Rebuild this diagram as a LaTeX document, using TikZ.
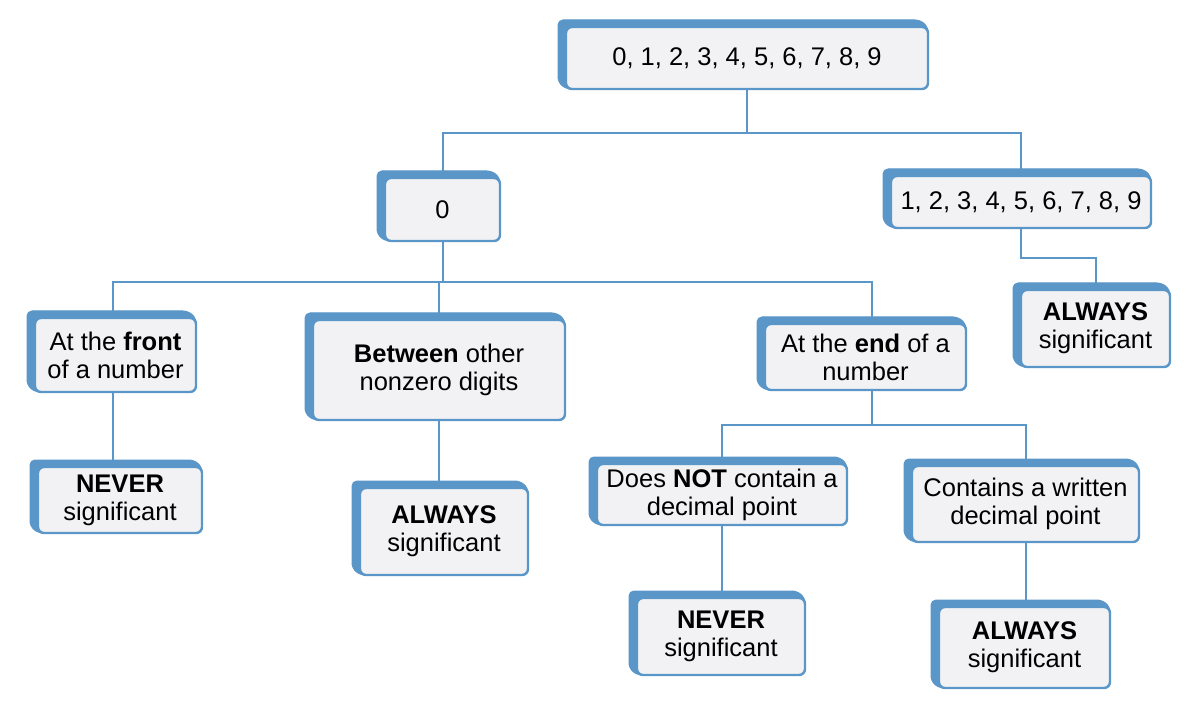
\documentclass[tikz,border=0pt]{standalone}
\usepackage{fontspec}
\setmainfont{Liberation Sans}
\usetikzlibrary{calc}
\definecolor{bblue}{HTML}{5A96C8}
\definecolor{boxgray}{HTML}{F2F2F4}
\pgfdeclarelayer{bg}
\pgfdeclarelayer{mid}
\pgfsetlayers{bg,mid,main}
\tikzset{
  box/.style={draw=bblue, line width=1.2pt, fill=boxgray, rounded corners=3pt,
    align=center, inner sep=0pt, outer sep=0pt,
    font=\fontsize{12.75}{14}\selectfont},
  slab/.style={fill=bblue, draw=bblue, line width=0.5pt, rounded corners=2.5pt},
  conn/.style={draw=bblue, line width=1pt}
}
\newcommand\mybox[6]{%
  \node[box, minimum width={(#4-#2)*0.5pt}, minimum height={(#5-#3)*0.5pt}] (#1) at ({(#2+#4)/2},{(#3+#5)/2}) {#6};
  \begin{pgfonlayer}{mid}
    \filldraw[slab] ([shift={(-8,-7)}]#1.north west) -- ([shift={(-8,-7)}]#1.north east) -- (#1.north east) -- (#1.south east) -- (#1.south west) -- ([shift={(-8,-7)}]#1.south west) -- cycle;
  \end{pgfonlayer}}
\begin{document}
\begin{tikzpicture}[x=0.5pt,y=-0.5pt]
\useasboundingbox (0,0) rectangle (1200,711);
\mybox{top}{566}{27}{928}{89}{0, 1, 2, 3, 4, 5, 6, 7, 8, 9}
\mybox{zero}{385}{178}{500}{241}{0}
\mybox{nine}{891}{176}{1151}{228}{1, 2, 3, 4, 5, 6, 7, 8, 9}
\mybox{alwaysA}{1021}{290}{1170}{367}{\textbf{ALWAYS}\\significant}
\mybox{front}{35}{318}{196}{392}{At the \textbf{front}\\of a number}
\mybox{between}{313}{320}{565}{420}{\textbf{Between} other\\nonzero digits}
\mybox{end}{765}{324}{966}{390}{At the \textbf{end} of a\\number}
\mybox{neverA}{38}{467}{202}{533}{\textbf{NEVER}\\significant}
\mybox{alwaysB}{360}{488}{528}{575}{\textbf{ALWAYS}\\significant}
\mybox{notdec}{597}{464}{847}{525}{Does \textbf{NOT} contain a\\decimal point}
\mybox{contains}{912}{466}{1139}{542}{Contains a written\\decimal point}
\mybox{neverB}{637}{598}{805}{675}{\textbf{NEVER}\\significant}
\mybox{alwaysC}{939}{607}{1110}{688}{\textbf{ALWAYS}\\significant}
\begin{pgfonlayer}{bg}
  \coordinate (fx) at (113,0);
  \coordinate (ex) at (872,0);
  \draw[conn] (top.south) -- ++(0,44) coordinate (j1);
  \draw[conn] (zero.north) |- (j1) -| (nine.north);
  \draw[conn] (zero.south) -- ++(0,41) coordinate (j2);
  \draw[conn] (fx |- front.north) |- (j2) -| (ex |- end.north);
  \draw[conn] (between.north) -- (between.north |- j2);
  \draw[conn] (fx |- front.south) -- (fx |- neverA.north);
  \draw[conn] (between.south) -- (between.south |- alwaysB.north);
  \draw[conn] (nine.south) -- ++(0,30) -| (alwaysA.north);
  \draw[conn] (ex |- end.south) -- ++(0,35) coordinate (j3);
  \draw[conn] (notdec.north) |- (j3) -| (contains.north);
  \draw[conn] (notdec.south) -- (notdec.south |- neverB.north);
  \draw[conn] (contains.south) -- (contains.south |- alwaysC.north);
\end{pgfonlayer}
\end{tikzpicture}
\end{document}
